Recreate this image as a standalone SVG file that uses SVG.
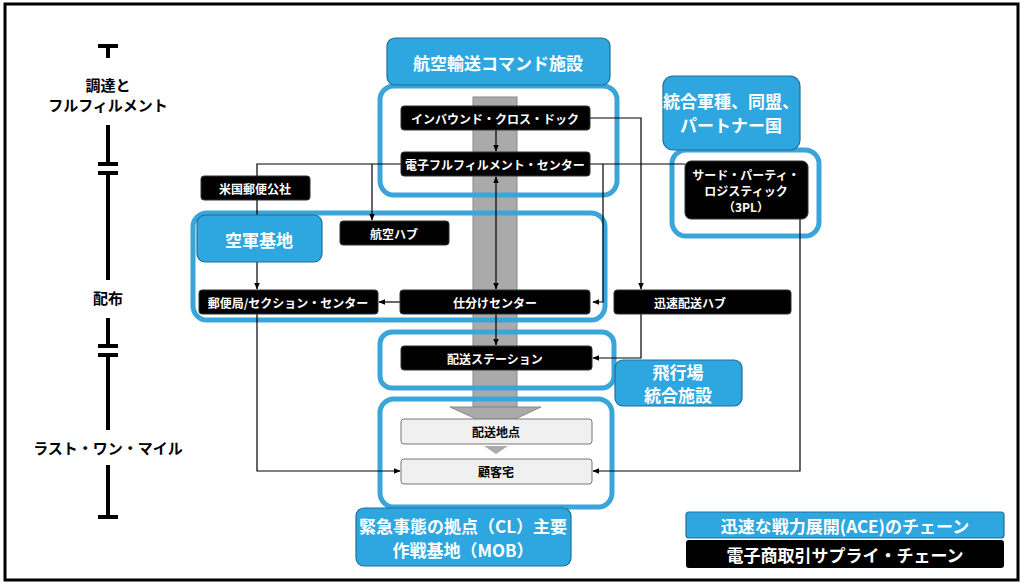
<svg xmlns="http://www.w3.org/2000/svg" width="1024" height="585" viewBox="0 0 1024 585">
<defs>
<style>
text{font-family:"Noto Sans CJK JP","Noto Sans",sans-serif;text-anchor:middle;dominant-baseline:central;font-weight:bold}
.n{fill:#000;stroke:#333;stroke-width:1}
.nt{fill:#fff;font-size:12px}
.l{fill:#f0f0f0;stroke:#777;stroke-width:1}
.lt{fill:#000;font-size:12px}
.o{fill:none;stroke:#3aa5d8;stroke-width:5}
.h{fill:#2ea6df;stroke:#1f6f99;stroke-width:1.2}
.ht{fill:#fff;font-size:17px}
.c{fill:none;stroke:#000;stroke-width:1.2}
.tl{stroke:#000;stroke-width:4;fill:none}
.tt{fill:#000;font-size:15px}
</style>
<marker id="a" viewBox="0 0 10 10" refX="9" refY="5" markerWidth="6" markerHeight="6" orient="auto-start-reverse"><path d="M0,1L10,5L0,9z" fill="#000"/></marker>
</defs>
<rect x="0" y="0" width="1024" height="585" fill="#fff"/>
<rect x="5" y="4" width="1013" height="576" fill="none" stroke="#000" stroke-width="3"/>
<g id="timeline">
<path class="tl" d="M98,46H118M108,46V58M108,125V164M98,164H118M98,173H118M108,173V280M108,318V346M98,346H118M98,355H118M108,355V430M108,465V517M98,517H118"/>
<text class="tt" x="108" y="84">調達と</text>
<text class="tt" x="108" y="104">フルフィルメント</text>
<text class="tt" x="108" y="297">配布</text>
<text class="tt" x="108" y="447">ラスト・ワン・マイル</text>
</g>
<g id="flow-arrow">
<rect x="473" y="97" width="44" height="310" fill="#aaa" stroke="#888"/>
<path d="M450,407H541L496,428z" fill="#aaa" stroke="#888"/>
<path d="M484,446H508L496,454z" fill="#aaa"/>
</g>
<g id="groups">
<rect class="o" x="380" y="86" width="237" height="109" rx="14"/>
<rect class="o" x="193" y="213" width="412" height="107" rx="14"/>
<rect class="o" x="380" y="332" width="234" height="56" rx="12"/>
<rect class="o" x="380" y="399" width="232" height="108" rx="14"/>
<rect class="o" x="672" y="150" width="147" height="86" rx="14"/>
</g>
<g id="connectors">
<path class="c" d="M590,118H641V289" marker-end="url(#a)"/>
<path class="c" d="M496,130V151" marker-end="url(#a)"/>
<path class="c" d="M496,177V289" marker-start="url(#a)" marker-end="url(#a)"/>
<path class="c" d="M401,164H257V289" marker-end="url(#a)"/>
<path class="c" d="M372,164V220" marker-end="url(#a)"/>
<path class="c" d="M590,164H685"/>
<path class="c" d="M603,164V302H593" marker-end="url(#a)"/>
<path class="c" d="M400,302H379" marker-end="url(#a)"/>
<path class="c" d="M496,314V345" marker-end="url(#a)"/>
<path class="c" d="M641,314V358H593" marker-end="url(#a)"/>
<path class="c" d="M257,314V471H400" marker-end="url(#a)"/>
<path class="c" d="M800,219V471H593" marker-end="url(#a)"/>
</g>
<g id="h-air"><rect class="h" x="387" y="38" width="223" height="47" rx="8"/><text class="ht" x="498" y="62">航空輸送コマンド施設</text></g>
<g id="h-joint"><rect class="h" x="663" y="76" width="137" height="74" rx="10"/><text class="ht" x="731" y="100">統合軍種、同盟、</text><text class="ht" x="731" y="124">パートナー国</text></g>
<g id="h-afb"><rect class="h" x="197" y="215" width="125" height="47" rx="8"/><text class="ht" x="259" y="239" font-size="18">空軍基地</text></g>
<g id="h-airfield"><rect class="h" x="615" y="360" width="127" height="46" rx="8"/><text class="ht" x="678" y="371">飛行場</text><text class="ht" x="678" y="394">統合施設</text></g>
<g id="h-mob"><rect class="h" x="356" y="508" width="215" height="58" rx="8"/><text class="ht" x="463" y="525">緊急事態の拠点（CL）主要</text><text class="ht" x="463" y="549">作戦基地（MOB）</text></g>
<g id="n-inbound"><rect class="n" x="401" y="106" width="189" height="24" rx="3"/><text class="nt" x="495" y="118">インバウンド・クロス・ドック</text></g>
<g id="n-efc"><rect class="n" x="401" y="152" width="189" height="24" rx="3"/><text class="nt" x="495" y="164" font-size="13">電子フルフィルメント・センター</text></g>
<g id="n-usps"><rect class="n" x="201" y="176" width="109" height="24" rx="3"/><text class="nt" x="255" y="188">米国郵便公社</text></g>
<g id="n-airhub"><rect class="n" x="340" y="221" width="109" height="24" rx="3"/><text class="nt" x="394" y="233">航空ハブ</text></g>
<g id="n-post"><rect class="n" x="199" y="290" width="179" height="24" rx="3"/><text class="nt" x="288" y="302">郵便局/セクション・センター</text></g>
<g id="n-sort"><rect class="n" x="400" y="290" width="190" height="24" rx="3"/><text class="nt" x="495" y="302">仕分けセンター</text></g>
<g id="n-rapid"><rect class="n" x="614" y="290" width="177" height="24" rx="3"/><text class="nt" x="690" y="302">迅速配送ハブ</text></g>
<g id="n-station"><rect class="n" x="401" y="346" width="191" height="24" rx="3"/><text class="nt" x="495" y="358">配送ステーション</text></g>
<g id="n-3pl"><rect class="n" x="685" y="161" width="123" height="58" rx="6"/><text class="nt" x="746" y="174">サード・パーティ・</text><text class="nt" x="746" y="190">ロジスティック</text><text class="nt" x="746" y="206">（3PL）</text></g>
<g id="n-point"><rect class="l" x="401" y="419" width="191" height="25" rx="3"/><text class="lt" x="496" y="431">配送地点</text></g>
<g id="n-home"><rect class="l" x="401" y="459" width="191" height="25" rx="3"/><text class="lt" x="496" y="471">顧客宅</text></g>
<g id="legend">
<rect class="h" x="686" y="512" width="318" height="26" rx="3"/><text class="ht" x="845" y="525" font-size="18">迅速な戦力展開(ACE)のチェーン</text>
<rect x="686" y="540" width="318" height="28" rx="3" fill="#000"/><text class="ht" x="845" y="554" font-size="18">電子商取引サプライ・チェーン</text>
</g>
</svg>
